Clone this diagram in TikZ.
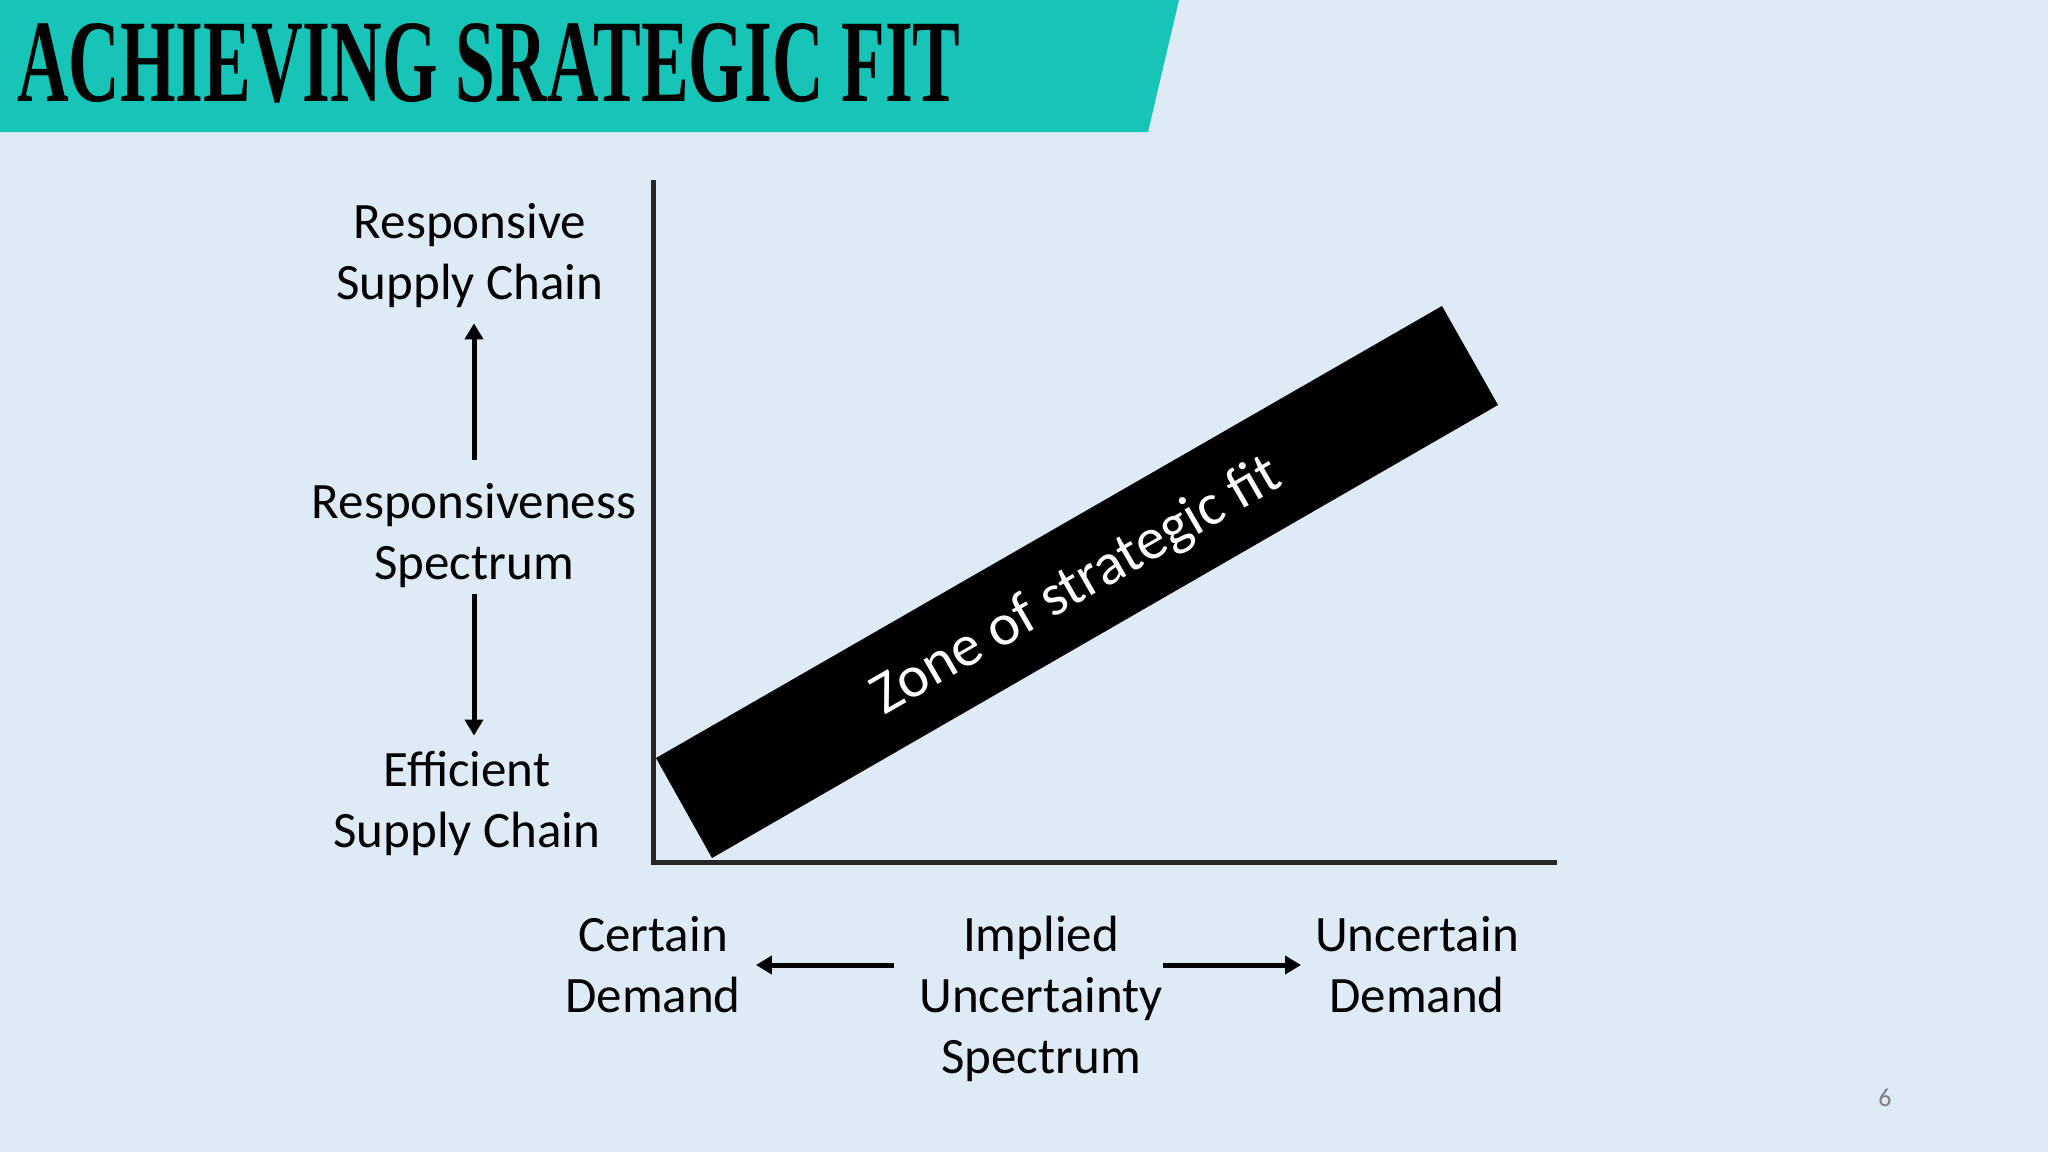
\documentclass[tikz,border=0pt]{standalone}
\usepackage{fontspec}
\setmainfont{Carlito}
\newfontfamily\titlefont{Liberation Serif}
\usetikzlibrary{arrows.meta}
\definecolor{slidebg}{HTML}{DEEAF6}
\definecolor{banner}{HTML}{17C5B8}
\definecolor{axisgray}{HTML}{262626}
\begin{document}
\begin{tikzpicture}[x=1pt,y=-1pt,
  lbl/.style={align=center,inner sep=0pt,font=\fontsize{51}{61}\selectfont},
  arr/.style={line width=5pt,-{Triangle[length=16pt,width=18pt]}},
  ax/.style={line width=5pt,draw=axisgray}]
\useasboundingbox (0,0) rectangle (2048,1152);
\fill[slidebg] (0,0) rectangle (2048,1152);
\fill[banner] (0,0) -- (1179,0) -- (1148,132) -- (0,132) -- cycle;
\node[anchor=north west,inner sep=0pt] (title) at (17,23) {\resizebox{943pt}{78pt}{\titlefont\bfseries ACHIEVING SRATEGIC FIT}};
\coordinate (ytop) at (653,180);
\coordinate (origin) at (653,862);
\coordinate (xend) at (1557,862);
\draw[ax] (ytop) -- (origin) -- (xend);
\fill (656,758) -- (1442,306) -- (1498,405) -- (712,858) -- cycle;
\node[rotate=30,text=white,font=\fontsize{59}{70}\selectfont] (zone) at (1077,587) {Zone of strategic fit};
\node[lbl] (resp) at (470,256) {Responsive\\Supply Chain};
\node[lbl] (rspec) at (474,536) {Responsiveness\\Spectrum};
\node[lbl] (eff) at (467,803) {Efficient\\Supply Chain};
\draw[arr,shorten <=24pt,shorten >=15pt] (rspec.north) -- (rspec.north |- resp.south);
\draw[arr,shorten <=6pt,shorten >=15pt] (rspec.south) -- (rspec.south |- eff.north);
\node[lbl] (cert) at (653,965) {Certain\\Demand};
\node[lbl] (impl) at (1041,999) {Implied\\Uncertainty\\Spectrum};
\node[lbl] (unc) at (1417,965) {Uncertain\\Demand};
\draw[arr,shorten <=25pt,shorten >=15pt] (impl.west |- cert.east) -- (cert.east);
\draw[arr,shorten >=14pt] (impl.east |- unc.west) -- (unc.west);
\node[font=\fontsize{26}{30}\selectfont,text=gray] (pnum) at (1885,1098) {6};
\end{tikzpicture}
\end{document}
